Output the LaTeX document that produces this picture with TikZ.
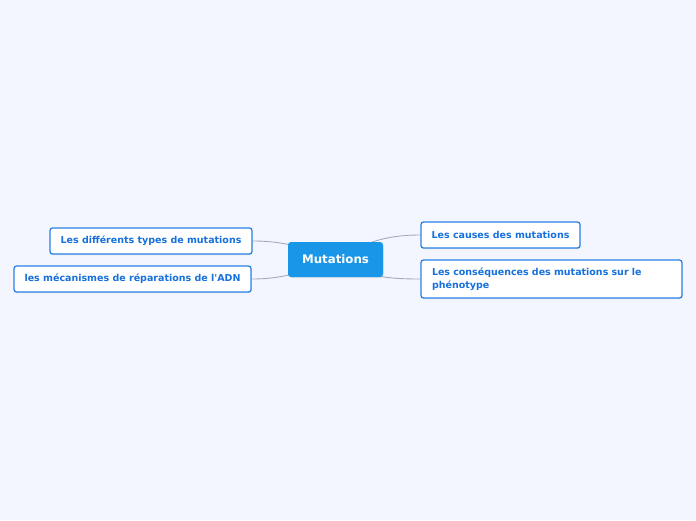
\documentclass[tikz,border=0pt]{standalone}
\usepackage{fontspec}
\setmainfont{DejaVu Sans}
\usetikzlibrary{shadows}
\definecolor{bgc}{HTML}{F3F6FE}
\definecolor{txtc}{HTML}{1670DE}
\definecolor{bordc}{HTML}{2A82E4}
\definecolor{mainc}{HTML}{1A96E8}
\definecolor{linec}{HTML}{A4ABBA}
\pgfdeclarelayer{bg}
\pgfdeclarelayer{edges}
\pgfsetlayers{bg,edges,main}
\tikzset{
  child/.style={draw=bordc, line width=1.3pt, fill=white, rounded corners=2.5pt,
    text=txtc, font=\fontsize{9.5}{13}\selectfont\bfseries, inner sep=0pt,
    drop shadow={shadow xshift=0.5pt, shadow yshift=-1pt, opacity=0.18}},
  center/.style={fill=mainc, rounded corners=3pt, text=white,
    font=\fontsize{11.8}{14}\selectfont\bfseries, inner sep=0pt,
    minimum width=95pt, minimum height=35pt,
    drop shadow={shadow xshift=0.5pt, shadow yshift=-1pt, opacity=0.15}},
  conn/.style={draw=linec, line width=0.9pt}
}
\begin{document}
\begin{tikzpicture}[x=1pt,y=-1pt]
\begin{pgfonlayer}{bg}
\fill[bgc] (0,0) rectangle (696,520);
\end{pgfonlayer}
\useasboundingbox (0,0) rectangle (696,520);
\node[center] (C) at (335.5,259.5) {\raisebox{-1pt}{Mutations}};
\node[child, minimum width=202pt, minimum height=26pt] (L1) at (151,241) {\raisebox{-0.8pt}{Les différents types de mutations}};
\node[child, minimum width=237pt, minimum height=26pt] (L2) at (132.5,279) {\raisebox{-0.8pt}{les mécanismes de réparations de l\textquotesingle ADN}};
\node[child, minimum width=159pt, minimum height=26pt] (R1) at (500.5,235) {\raisebox{-0.8pt}{Les causes des mutations}};
\node[child, minimum width=261pt, minimum height=38pt, text width=239pt, align=left, inner xsep=11pt] (R2) at (551.5,279) {Les conséquences des mutations sur le phénotype};
\begin{pgfonlayer}{edges}
\draw[conn] (L1.east) to[out=0,in=160] (C.center);
\draw[conn] (L2.east) to[out=0,in=200] (C.center);
\draw[conn] (R1.west) to[out=180,in=30] (C.center);
\draw[conn] (R2.west) to[out=180,in=-30] (C.center);
\end{pgfonlayer}
\end{tikzpicture}
\end{document}
